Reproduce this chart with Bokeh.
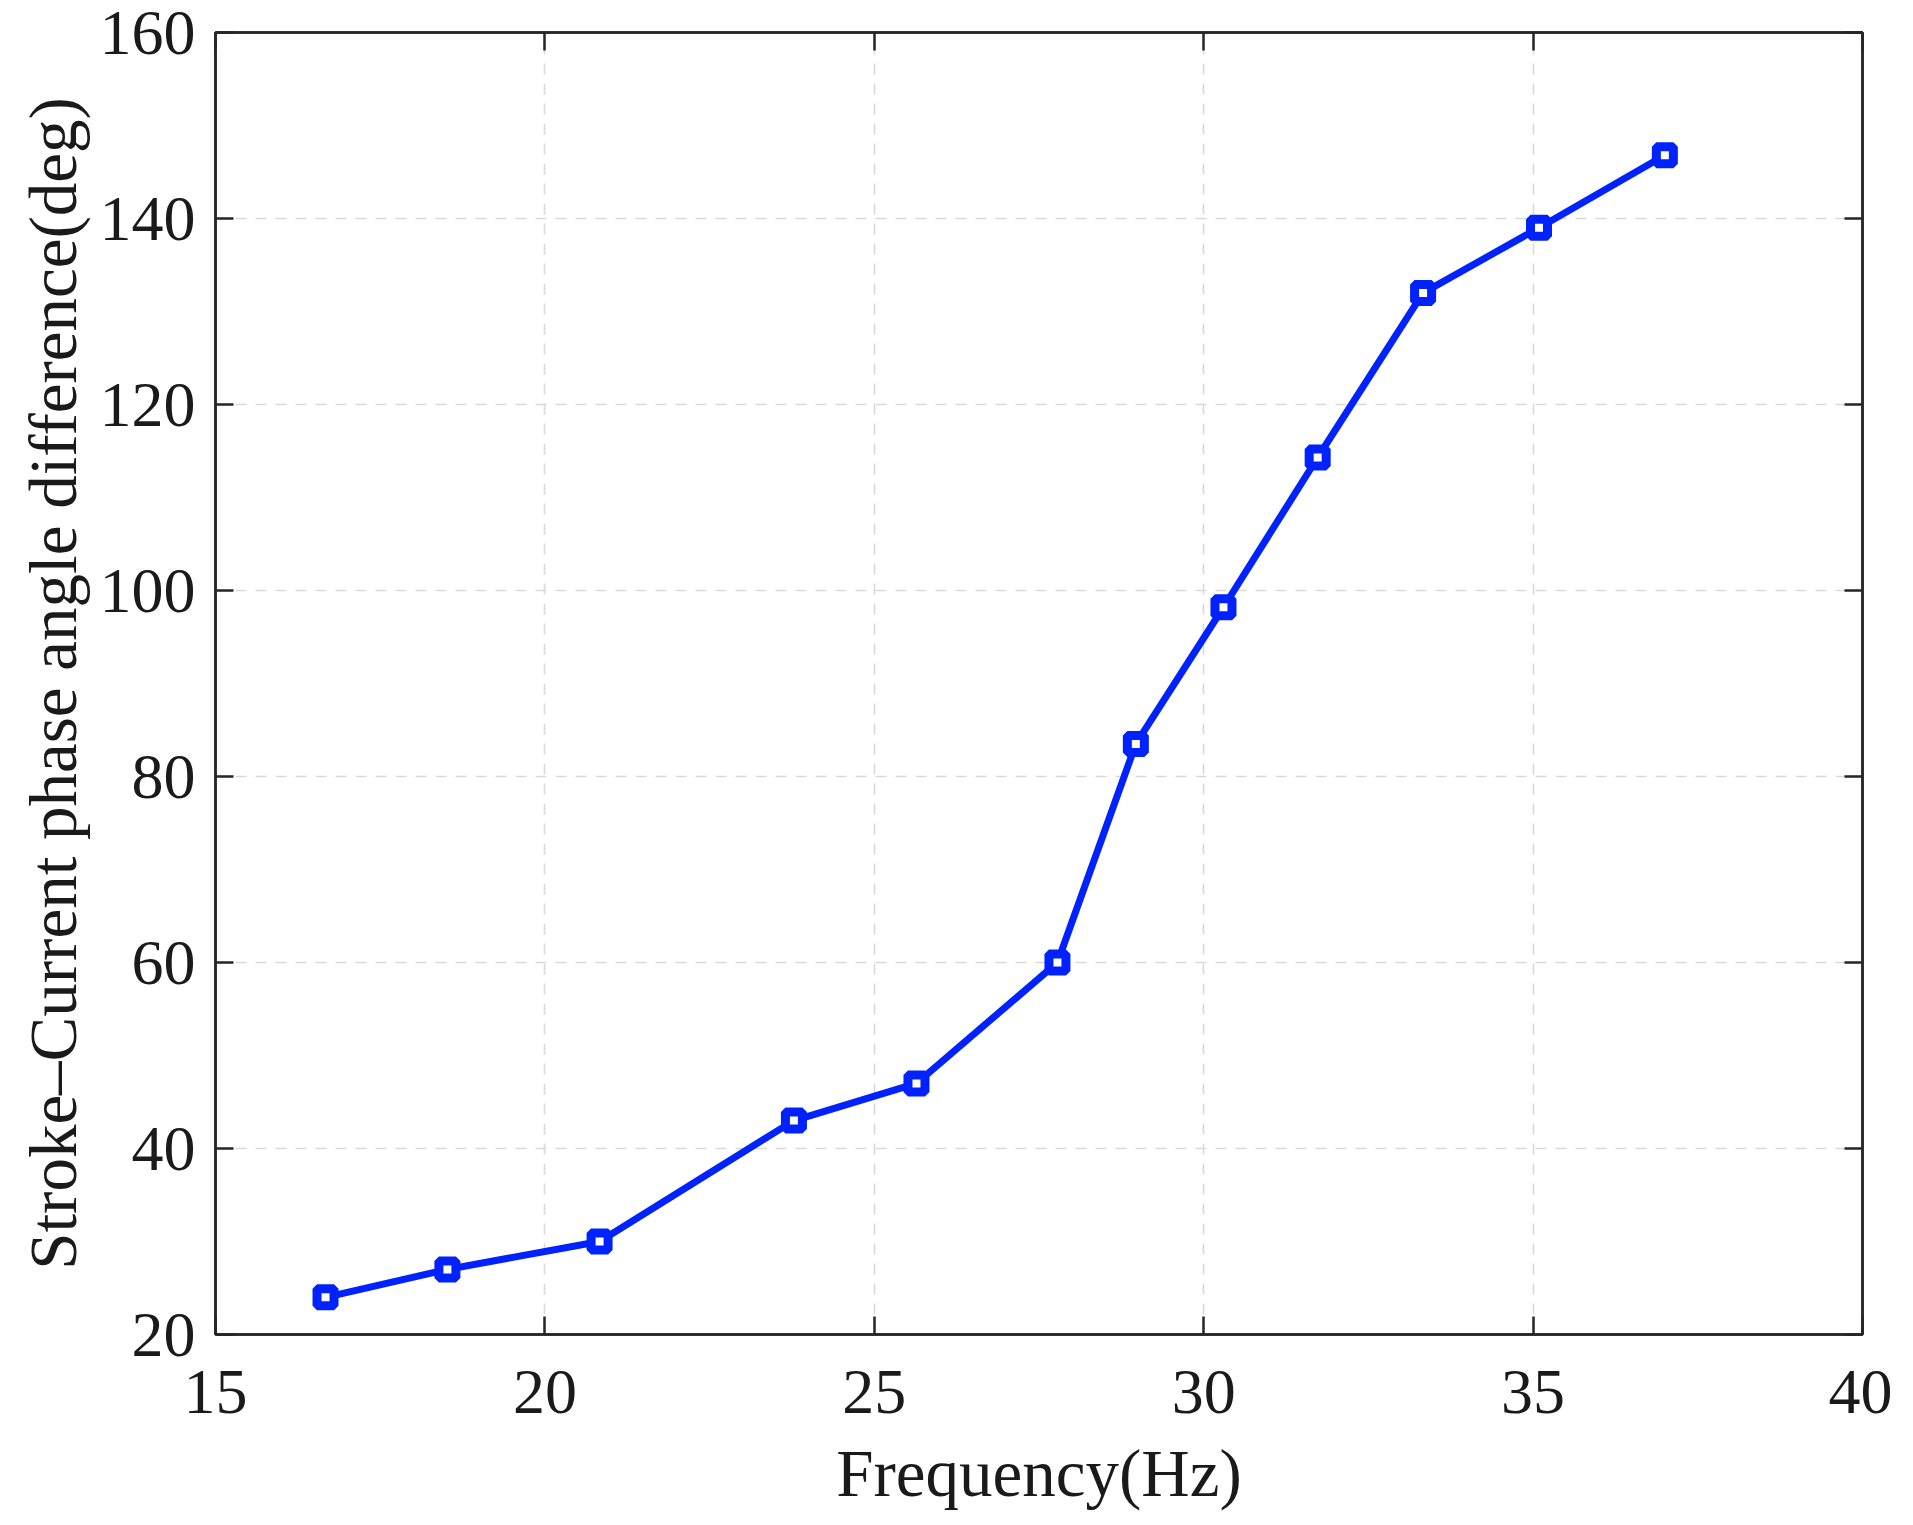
from bokeh.plotting import figure
from bokeh.models import LinearAxis, FixedTicker, Range1d
from bokeh.embed import file_html
from bokeh.resources import INLINE

# Data
freq_hz = [16.67, 18.52, 20.83, 23.78, 25.64, 27.78, 28.97, 30.30, 31.73, 33.33, 35.09, 37.00]
phase_deg = [24.0, 27.0, 30.0, 43.0, 47.0, 60.0, 83.5, 98.2, 114.3, 132.0, 139.0, 146.8]
x_ticks = [15, 20, 25, 30, 35, 40]
y_ticks = [20, 40, 60, 80, 100, 120, 140, 160]

FONT = "Liberation Serif"
BLUE = "#0022FF"
AXC = "#262626"

p = figure(
    frame_width=1647, frame_height=1302,
    min_border_left=215, min_border_right=30, min_border_top=32, min_border_bottom=173,
    x_range=Range1d(15, 40), y_range=Range1d(20, 160),
    output_backend="svg", toolbar_location=None,
    x_axis_label="Frequency(Hz)",
    y_axis_label="Stroke\u2013Current phase angle difference(deg)",
)
p.background_fill_color = "white"
p.border_fill_color = "white"
p.outline_line_color = AXC
p.outline_line_width = 2.5

def style_axis(ax, ticks, show_labels=True):
    ax.ticker = FixedTicker(ticks=ticks)
    ax.major_tick_in = 18
    ax.major_tick_out = 0
    ax.minor_tick_in = 0
    ax.minor_tick_out = 0
    ax.major_tick_line_color = AXC
    ax.major_tick_line_width = 2.5
    ax.axis_line_color = AXC
    ax.axis_line_width = 2.5
    ax.major_label_text_font = FONT
    ax.major_label_text_color = "#1a1a1a"
    if show_labels:
        ax.major_label_text_font_size = "64px"
    else:
        ax.major_label_overrides = {t: "" for t in ticks}
        ax.major_label_text_font_size = "0px"
        ax.major_label_standoff = 0
    ax.axis_label_text_font = FONT
    ax.axis_label_text_font_style = "normal"
    ax.axis_label_text_font_size = "67px"
    ax.axis_label_text_color = "#1a1a1a"

xa = p.xaxis[0]
ya = p.yaxis[0]
style_axis(xa, x_ticks)
style_axis(ya, y_ticks)
xa.major_label_standoff = 36
xa.axis_label_standoff = 20
ya.major_label_standoff = 20
ya.axis_label_standoff = 7

top = LinearAxis()
style_axis(top, x_ticks, show_labels=False)
p.add_layout(top, "above")
right = LinearAxis()
style_axis(right, y_ticks, show_labels=False)
p.add_layout(right, "right")

p.xgrid.ticker = FixedTicker(ticks=x_ticks)
p.ygrid.ticker = FixedTicker(ticks=y_ticks)
for g in (p.xgrid[0], p.ygrid[0]):
    g.grid_line_color = "#d9d9d9"
    g.grid_line_width = 1.6
    g.grid_line_dash = "11 9"

p.line(freq_hz, phase_deg, line_color=BLUE, line_width=7)
p.scatter(freq_hz, phase_deg, marker="square", size=17, line_color=BLUE,
          line_width=9, fill_color="white")

open("out.html", "w").write(file_html(p, INLINE))
